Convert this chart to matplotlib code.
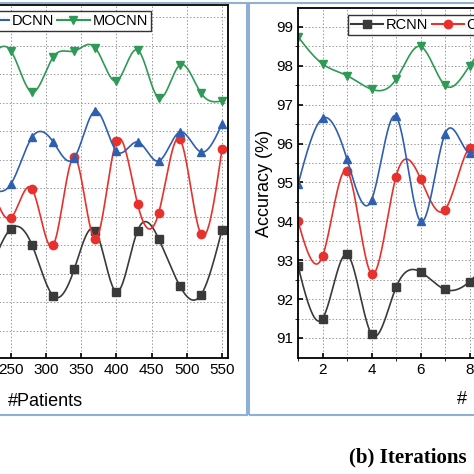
import numpy as np
import matplotlib
matplotlib.use("Agg")
import matplotlib.pyplot as plt
from matplotlib.patches import Rectangle

# ---- data ----
patients = [220, 250, 280, 310, 340, 370, 400, 430, 460, 490, 520, 550]
p_rcnn  = [91.02, 92.54, 91.96, 90.18, 91.12, 92.47, 90.32, 92.47, 92.18, 90.53, 90.21, 92.50]
p_cod   = [94.25, 92.92, 93.93, 91.96, 95.05, 92.18, 95.61, 93.40, 93.09, 95.68, 92.35, 95.33]
p_dcnn  = [93.96, 94.11, 95.75, 95.58, 95.02, 96.67, 95.26, 95.58, 94.91, 95.93, 95.23, 96.21]
p_mocnn = [98.53, 98.77, 97.33, 98.56, 98.77, 98.88, 97.72, 98.81, 97.12, 98.28, 97.30, 97.02]

iters   = [1, 2, 3, 4, 5, 6, 7, 8, 9, 10]
i_rcnn  = [92.85, 91.5, 93.15, 91.1, 92.3, 92.7, 92.25, 92.45, 92.9, 92.2]
i_cod   = [94.0, 93.1, 95.3, 92.65, 95.15, 95.1, 94.3, 95.9, 95.4, 96.0]
i_dcnn  = [94.95, 96.65, 95.6, 94.55, 96.7, 94.0, 96.25, 95.75, 96.5, 95.8]
i_mocnn = [98.75, 98.05, 97.75, 97.4, 97.65, 98.5, 97.5, 98.0, 98.6, 98.2]

names = ["RCNN", "CODCNN", "DCNN", "MOCNN"]
colors = ["#3a3a3a", "#e8302c", "#2f5fb0", "#2e9a55"]
markers = ["s", "o", "^", "v"]

def spline(x, y, n=400):
    x = np.asarray(x, float); y = np.asarray(y, float)
    m = len(x); h = np.diff(x)
    A = np.zeros((m, m)); b = np.zeros(m)
    A[0, 0] = A[-1, -1] = 1
    for i in range(1, m - 1):
        A[i, i-1] = h[i-1]; A[i, i] = 2*(h[i-1]+h[i]); A[i, i+1] = h[i]
        b[i] = 3*((y[i+1]-y[i])/h[i] - (y[i]-y[i-1])/h[i-1])
    c = np.linalg.solve(A, b)
    xs = np.linspace(x[0], x[-1], n); ys = np.empty(n)
    for k, t in enumerate(xs):
        i = min(np.searchsorted(x, t, side="right") - 1, m - 2)
        d = t - x[i]
        bb = (y[i+1]-y[i])/h[i] - h[i]*(2*c[i]+c[i+1])/3
        dd = (c[i+1]-c[i])/(3*h[i])
        ys[k] = y[i] + bb*d + c[i]*d*d + dd*d**3
    return xs, ys

W = H = 474
fig = plt.figure(figsize=(4.74, 4.74), dpi=100)
plt.rcParams["font.family"] = ["Liberation Sans", "DejaVu Sans"]

def fx(px): return px / W
def fy(py): return 1 - py / H

frame_c = "#8fb0d6"
fig.patches.append(Rectangle((fx(-20), fy(415)), fx(267), fy(3) - fy(415),
                             transform=fig.transFigure, fill=False, ec=frame_c, lw=1.5))
fig.patches.append(Rectangle((fx(249), fy(415)), fx(260), fy(3) - fy(415),
                             transform=fig.transFigure, fill=False, ec=frame_c, lw=1.5))

def style(ax):
    ax.grid(True, which="both", ls=(0, (1.5, 2)), color="#999999", lw=0.7)
    for s in ax.spines.values():
        s.set_linewidth(1.3)
    ax.tick_params(labelsize=11, direction="in", width=1.2)

# left panel: x 250->11px, 550->222px
ppx = (222 - 11) / 300
x_left_px = -120
ax1 = fig.add_axes([fx(x_left_px), fy(358), fx(228 - x_left_px), fy(5) - fy(358)])
for y, n, c, mk in zip([p_rcnn, p_cod, p_dcnn, p_mocnn], names, colors, markers):
    xs, ys = spline(patients, y)
    ax1.plot(xs, ys, color=c, lw=1.2)
    ax1.plot(patients, y, mk, color=c, ms=6)
    ax1.plot([], [], color=c, marker=mk, ms=6, label=n)
ax1.set_xlim(250 + (x_left_px - 11) / ppx, 250 + (228 - 11) / ppx)
ax1.set_ylim(88, 88 + 353 / 28.5)
ax1.set_xticks([250, 300, 350, 400, 450, 500, 550])
ax1.set_yticks(np.arange(88.95, 100.5, 1.0))
ax1.set_yticklabels([])
style(ax1)
ax1.legend(loc="upper right", bbox_to_anchor=(fx(158), fy(4)), bbox_transform=fig.transFigure,
           ncol=4, fontsize=10.5, frameon=True, fancybox=False, edgecolor="black",
           handlelength=2.2, handletextpad=0.2, columnspacing=0.2, borderpad=0.2)
fig.text(fx(8), fy(402), "#Patients", fontsize=13, va="center")

# right panel: 99 at y=27, 91 at 338 ; x: 2 at 324, 4 at 373
ax2 = fig.add_axes([fx(298), fy(358), fx(298 + 24.5 * 9.6) - fx(298), fy(8) - fy(358)])
for y, n, c, mk in zip([i_rcnn, i_cod, i_dcnn, i_mocnn], names, colors, markers):
    xs, ys = spline(iters, y)
    ax2.plot(xs, ys, color=c, lw=1.2)
    ax2.plot(iters, y, mk, color=c, ms=6)
    ax2.plot([], [], color=c, marker=mk, ms=6, label=n)
ax2.set_xlim(1, 1 + 9.6)
u = 311 / 8
ax2.set_ylim(99 - (358 - 27) / u, 99 + (27 - 8) / u)
ax2.set_xticks([2, 4, 6, 8, 10])
ax2.set_xticks([1, 3, 5, 7, 9], minor=True)
ax2.set_yticks(range(91, 100))
ax2.set_yticks(np.arange(91.5, 99.5, 1), minor=True)
style(ax2)
ax2.set_ylabel("Accuracy (%)", fontsize=13, labelpad=2)
ax2.legend(loc="upper left", bbox_to_anchor=(fx(341), fy(8)), bbox_transform=fig.transFigure,
           ncol=4, fontsize=10.5, frameon=True, fancybox=False, edgecolor="black",
           handlelength=2.2, handletextpad=0.2, columnspacing=0.2, borderpad=0.2)
fig.text(fx(457), fy(399), "#", fontsize=13, va="center")
fig.text(fx(349), fy(457), "(b) Iterations", fontsize=15, fontweight="bold",
         family="Liberation Serif", va="center")

fig.savefig("out.png", dpi=100)
